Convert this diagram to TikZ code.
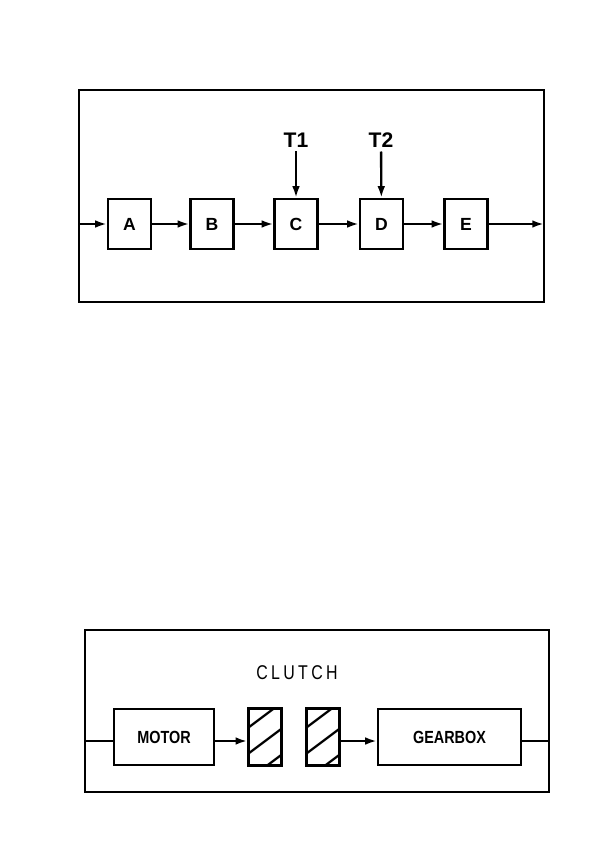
\documentclass[tikz,border=0pt]{standalone}
\usepackage{fontspec}
\setmainfont{Liberation Sans}
\usetikzlibrary{
    arrows.meta,
    positioning
}

\begin{document}
\begin{tikzpicture}[x=0.03cm, y=-0.03cm,
        blocknode/.style={draw, line width=1.8pt, minimum width=1.29cm, minimum height=1.5cm, inner sep=0pt, font=\fontsize{15}{15}\selectfont\bfseries},
        widenode/.style={draw, line width=1.8pt, minimum height=1.68cm, inner sep=0pt, font=\fontsize{15}{15}\selectfont\bfseries\addfontfeature{FakeStretch=0.82}},
        platenode/.style={draw, line width=2pt, minimum width=0.99cm, minimum height=1.71cm, inner sep=0pt,
            path picture={\foreach \k in {-0.42,0.36,1.14}
                \draw[line width=1.9pt] (path picture bounding box.south west) ++(0,\k cm) -- ++(1.2cm,0.9cm);}},
        labelnode/.style={font=\fontsize{18}{18}\selectfont\bfseries},
        framebox/.style={draw, line width=1.5pt},
        flowarrow/.style={-{Latex[length=10pt,width=6.5pt]}},
     ]
    \useasboundingbox (0,0) rectangle (600,850);

    % upper picture
    \draw[framebox] (79,90) rectangle (544,302);
    \begin{scope}
        \node[blocknode] (blkA) at (129.5,224) {A};
        \node[blocknode] (blkB) at (212,224) {B};
        \node[blocknode] (blkC) at (296,224) {C};
        \node[blocknode] (blkD) at (381.5,224) {D};
        \node[blocknode] (blkE) at (466,224) {E};
        \node[labelnode] (lblT1) at (296,140) {T1};
        \node[labelnode] (lblT2) at (381,140) {T2};
        \coordinate (inTop) at (79,224);
        \coordinate (outTop) at (544,224);
    \end{scope}

    \begin{scope} [every edge/.style={draw, line width=2pt, flowarrow}]
        \path (inTop) edge (blkA);
        \path (blkA) edge (blkB);
        \path (blkB) edge (blkC);
        \path (blkC) edge (blkD);
        \path (blkD) edge (blkE);
        \path (blkE) edge (outTop);
        \path (lblT1) edge (blkC);
        \path (lblT2) edge (blkD);
    \end{scope}

    % lower picture
    \draw[framebox] (85,630) rectangle (549,792);
    \begin{scope}
        \node[widenode, minimum width=3cm] (motor) at (164,737) {MOTOR};
        \node[platenode] (plateL) at (265,737) {};
        \node[platenode] (plateR) at (323,737) {};
        \node[widenode, minimum width=4.29cm] (gearbox) at (449.5,737) {GEARBOX};
        \node[font=\fontsize{17}{17}\selectfont\addfontfeature{FakeStretch=0.8}] (clutch) at (297,673) {C\,L\,U\,T\,C\,H};
        \coordinate (inBot) at (85,741);
        \coordinate (outBot) at (549,741);
    \end{scope}

    \begin{scope} [every edge/.style={draw, line width=2pt}]
        \path (inBot) edge (inBot -| motor.west);
        \path[flowarrow] (motor.east |- inBot) edge (plateL.west |- inBot);
        \path[flowarrow] (plateR.east |- inBot) edge (gearbox.west |- inBot);
        \path (gearbox.east |- inBot) edge (outBot);
    \end{scope}
\end{tikzpicture}
\end{document}
